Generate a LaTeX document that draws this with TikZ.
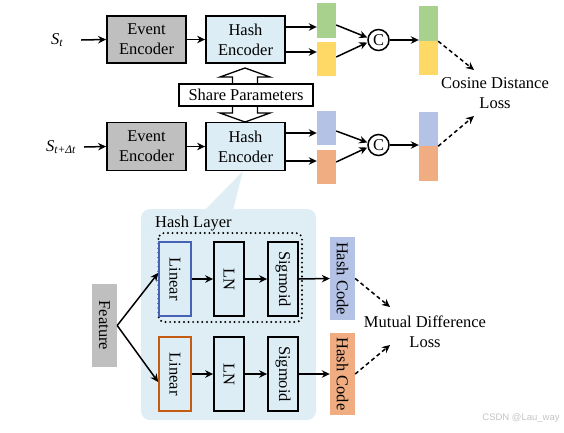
\documentclass[tikz,border=0pt]{standalone}
\usepackage{fontspec}
\setmainfont{Liberation Serif}
\newfontfamily\wmfont{Liberation Sans}
\usetikzlibrary{arrows.meta,calc}
\definecolor{encgray}{HTML}{BFBFBF}
\definecolor{hashblue}{HTML}{DCEDF5}
\definecolor{layerbg}{HTML}{DFEEF5}
\definecolor{cgreen}{HTML}{A9D18E}
\definecolor{cyellow}{HTML}{FFD966}
\definecolor{cblue}{HTML}{B4C2E6}
\definecolor{corange}{HTML}{F0AD82}
\definecolor{linblue}{HTML}{4662B4}
\definecolor{linorange}{HTML}{C55A11}
\definecolor{wmgray}{HTML}{C4C4C4}
\begin{document}
\begin{tikzpicture}[x=1pt,y=-1pt,
  font=\fontsize{16.5}{20}\selectfont,
  encbox/.style={draw, line width=1.8pt, align=center, inner sep=0pt, minimum width=79pt, minimum height=47pt},
  bar/.style={inner sep=0pt, minimum width=19pt, minimum height=35pt},
  catc/.style={draw, circle, line width=1.5pt, inner sep=0pt, minimum size=21pt, fill=white},
  vbox/.style={draw, line width=1.8pt, inner sep=0pt, minimum width=30pt, minimum height=74pt},
  arr/.style={-{Stealth[length=8pt,width=7.5pt]}, line width=1.5pt},
  darr/.style={-{Stealth[length=8pt,width=7.5pt]}, line width=1.5pt, dash pattern=on 4pt off 3pt},
  plain/.style={inner sep=0pt, align=center}]
\useasboundingbox (0,0) rectangle (564,432);

% callout wedge and hash layer background
\fill[layerbg] (243,171) -- (205,210) -- (233,210) -- cycle;
\node[fill=layerbg, rounded corners=9pt, minimum width=175pt, minimum height=211pt, inner sep=0pt] (hl) at (228.5,314.5) {};
\node[plain, anchor=west] (hltitle) at (155,224) {Hash Layer};

% top branch
\node[plain] (st) at (57,40) {\textit{S\textsubscript{t}}};
\node[encbox, fill=encgray] (ee1) at (146.5,39.5) {Event\\Encoder};
\node[encbox, fill=hashblue] (he1) at (245.5,39.5) {Hash\\Encoder};
\node[bar, fill=cgreen] (g1) at (326.5,20.5) {};
\node[bar, fill=cyellow, minimum height=34pt] (y1) at (326.5,59) {};
\node[catc] (c1) at (378.5,40) {C};
\node[bar, fill=cgreen] (g2) at (428.5,23.5) {};
\node[bar, fill=cyellow, minimum height=34pt] (y2) at (428.5,58) {};

% bottom branch
\node[plain] (sdt) at (61,147) {\textit{S\textsubscript{t+Δt}}};
\node[encbox, fill=encgray, minimum height=48pt] (ee2) at (146.5,146.5) {Event\\Encoder};
\node[encbox, fill=hashblue, minimum height=48pt] (he2) at (245.5,146.5) {Hash\\Encoder};
\node[bar, fill=cblue, minimum height=34pt] (b1) at (326.5,128) {};
\node[bar, fill=corange, minimum height=34pt] (o1) at (326.5,167) {};
\node[catc] (c2) at (378.5,145) {C};
\node[bar, fill=cblue, minimum height=34pt] (b2) at (428.5,129) {};
\node[bar, fill=corange] (o2) at (428.5,163.5) {};

\node[plain] (cdl) at (495,93) {Cosine Distance\\Loss};
\coordinate (cdltop) at (474,70);
\coordinate (cdlbot) at (474,116);

% share parameters double arrow
\draw[line width=1.3pt, fill=white] (245,68) -- (270,77) -- (257.5,77) -- (257.5,113) -- (270,113) -- (245,122)
  -- (220,113) -- (232.5,113) -- (232.5,77) -- (220,77) -- cycle;
\node[draw, line width=1.6pt, fill=white, minimum width=134pt, minimum height=22pt, inner sep=0pt] (share) at (246,95) {Share Parameters};

% top connectors
\draw[arr] (st.east) ++(18,0) -- (ee1.west);
\draw[arr] (ee1.east) -- (he1.west);
\draw[arr] (he1.east |- 0,27) -- (g1.west |- 0,27);
\draw[arr] (he1.east |- 0,52) -- (y1.west |- 0,52);
\draw[arr] (g1.east |- 0,25) -- ($(c1.west)+(0,-2.5)$);
\draw[arr] (y1.east |- 0,57) -- ($(c1.west)+(0,2.5)$);
\draw[arr] (c1.east) -- (g2.west |- c1.east);
\draw[darr] (g2.south east) -- (cdltop);

% bottom connectors
\draw[arr] (sdt.east) ++(8,0) -- (ee2.west);
\draw[arr] (ee2.east) -- (he2.west);
\draw[arr] (he2.east |- 0,133) -- (b1.west |- 0,133);
\draw[arr] (he2.east |- 0,161) -- (o1.west |- 0,161);
\draw[arr] (b1.east |- 0,131) -- ($(c2.west)+(0,-2.5)$);
\draw[arr] (o1.east |- 0,162) -- ($(c2.west)+(0,2.5)$);
\draw[arr] (c2.east) -- (b2.west |- c2.east);
\draw[darr] (b2.south east) -- (cdlbot);

% hash layer internals
\draw[line width=2.2pt, line cap=round, dash pattern=on 0pt off 4.6pt, rounded corners=6pt] (158.5,233) rectangle (302,322);
\node[vbox, draw=linblue, line width=1.6pt, minimum width=32pt, fill=hashblue] (lin1) at (175,279) {\rotatebox{-90}{Linear}};
\node[vbox, fill=hashblue] (ln1) at (229,279) {\rotatebox{-90}{LN}};
\node[vbox, fill=hashblue] (sig1) at (283,279) {\rotatebox{-90}{Sigmoid}};
\node[vbox, draw=linorange, line width=1.6pt, minimum width=32pt, fill=hashblue] (lin2) at (175,374) {\rotatebox{-90}{Linear}};
\node[vbox, fill=hashblue] (ln2) at (229,374) {\rotatebox{-90}{LN}};
\node[vbox, fill=hashblue] (sig2) at (283,374) {\rotatebox{-90}{Sigmoid}};

\node[fill=encgray, inner sep=0pt, minimum width=25pt, minimum height=83pt] (feat) at (104.5,325.5) {\rotatebox{-90}{Feature}};
\node[fill=cblue, inner sep=0pt, minimum width=25pt, minimum height=83pt] (hc1) at (342.5,278.5) {\rotatebox{-90}{Hash Code}};
\node[fill=corange, inner sep=0pt, minimum width=25pt, minimum height=82pt] (hc2) at (342.5,374) {\rotatebox{-90}{Hash Code}};

\draw[arr] (feat.east) -- ($(lin1.west)+(0,-6)$);
\draw[arr] (feat.east) -- ($(lin2.west)+(0,8)$);
\draw[arr] (lin1.east) -- (ln1.west);
\draw[arr] (ln1.east) -- (sig1.west);
\draw[arr] (sig1.east) -- (hc1.west);
\draw[arr] (lin2.east) -- (ln2.west);
\draw[arr] (ln2.east) -- (sig2.west);
\draw[arr] (sig2.east) -- (hc2.west);

\node[plain] (mdl) at (425,332) {Mutual Difference\\Loss};
\coordinate (mdltop) at (390,307);
\coordinate (mdlbot) at (390,345);
\draw[darr] (hc1.east) -- (mdltop);
\draw[darr] (hc2.east) -- (mdlbot);

\node[plain, font=\wmfont\fontsize{9.5}{11}\selectfont, text=wmgray] (wm) at (521,418) {CSDN @Lau\_way};
\end{tikzpicture}
\end{document}
